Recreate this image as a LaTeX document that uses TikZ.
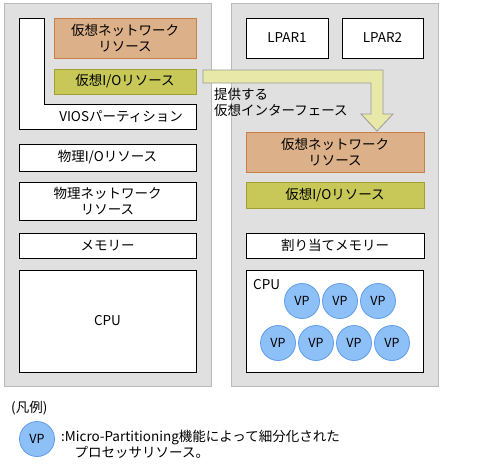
\documentclass[tikz,border=0pt]{standalone}
\usepackage{fontspec}
\setmainfont{Noto Sans CJK JP}
\begin{document}
\begin{tikzpicture}[x=1pt,y=-1pt,
  panel/.style={draw=black!27,fill=black!12,line width=0.8pt},
  wbox/.style={draw=black,fill=white,line width=0.8pt},
  netbox/.style={draw={rgb,255:red,200;green,128;blue,72},fill={rgb,255:red,220;green,176;blue,136},line width=0.8pt},
  iobox/.style={draw={rgb,255:red,160;green,160;blue,48},fill={rgb,255:red,200;green,200;blue,88},line width=0.8pt},
  vp/.style={circle,draw={rgb,255:red,96;green,156;blue,232},fill={rgb,255:red,142;green,192;blue,248},line width=0.8pt,minimum size=35pt,inner sep=0pt,font=\fontsize{12.5}{12.5}\selectfont},
  lbl/.style={font=\fontsize{13.5}{16}\selectfont,align=center},
]
\useasboundingbox (0,0) rectangle (486,475);
% panels
\draw[panel] (4,3) rectangle (211,386);
\draw[panel] (231,3) rectangle (438,386);
% left panel
\draw[wbox] (19,18) -- (44,18) -- (44,104) -- (196,104) -- (196,129) -- (19,129) -- cycle;
\node[lbl] (vios) at (121,117) {VIOSパーティション};
\draw[netbox] (54,18) rectangle (196,58);
\node[lbl] (vnet1) at (125,38) {仮想ネットワーク\\リソース};
\draw[iobox] (54,69) rectangle (196,94);
\node[lbl] (vio1) at (125,81.5) {仮想I/Oリソース};
\draw[wbox] (19,144) rectangle (196,171);
\node[lbl] (pio) at (107.5,157.5) {物理I/Oリソース};
\draw[wbox] (19,182) rectangle (196,220);
\node[lbl] (pnet) at (107.5,201) {物理ネットワーク\\リソース};
\draw[wbox] (19,233) rectangle (196,258);
\node[lbl] (mem) at (107.5,245.5) {メモリー};
\draw[wbox] (19,270) rectangle (196,372);
\node[lbl] (cpu1) at (107.5,321) {CPU};
% right panel
\draw[wbox] (246,18) rectangle (328,58);
\node[lbl] (lpar1) at (287,38) {LPAR1};
\draw[wbox] (342,18) rectangle (423,58);
\node[lbl] (lpar2) at (382.5,38) {LPAR2};
\draw[netbox] (246,132) rectangle (424,172);
\node[lbl] (vnet2) at (335,152) {仮想ネットワーク\\リソース};
\draw[iobox] (246,182) rectangle (424,208);
\node[lbl] (vio2) at (335,195) {仮想I/Oリソース};
\draw[wbox] (246,233) rectangle (424,258);
\node[lbl] (amem) at (335,245.5) {割り当てメモリー};
\draw[wbox] (246,270) rectangle (423,372);
\node[lbl,anchor=west,inner sep=0pt] (cpu2) at (253,285) {CPU};
\node[vp] (v1) at (302,301) {VP};
\node[vp] (v2) at (340,301) {VP};
\node[vp] (v3) at (378,301) {VP};
\node[vp] (v4) at (278,343) {VP};
\node[vp] (v5) at (316,343) {VP};
\node[vp] (v6) at (354,343) {VP};
\node[vp] (v7) at (392,343) {VP};
% arrow
\draw[draw=black!40,fill={rgb,255:red,232;green,232;blue,168},line width=0.8pt]
  (203,70) -- (383,70) -- (383,114) -- (393,114) -- (377,131) -- (361,114) -- (371,114) -- (371,83) -- (203,83) -- cycle;
\node[lbl,align=left,anchor=north west,inner sep=0pt] (prov) at (214,88) {提供する\\仮想インターフェース};
% legend
\node[lbl,anchor=west,inner sep=0pt] (leg) at (11,408) {(凡例)};
\node[vp] (lvp) at (37,439) {VP};
\node[lbl,anchor=north west,align=left,inner sep=0pt] (legt) at (61,430) {:Micro-Partitioning機能によって細分化された\\\hspace{1em}プロセッサリソース。};
\end{tikzpicture}
\end{document}
